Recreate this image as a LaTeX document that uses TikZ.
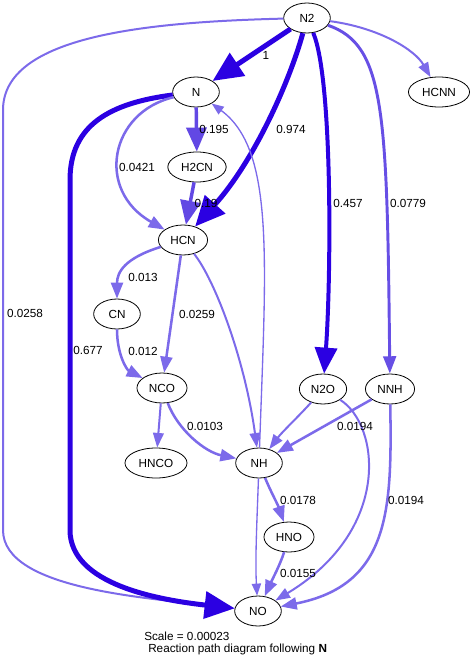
\documentclass[tikz,border=0pt]{standalone}
\usepackage{fontspec}
\setmainfont{Liberation Sans}
\usetikzlibrary{shapes,arrows.meta}

\definecolor{fluxhi}{RGB}{43,0,226}
\definecolor{fluxmid}{RGB}{98,72,228}
\definecolor{fluxlo}{RGB}{124,106,234}

\begin{document}
\begin{tikzpicture}[x=0.75pt, y=-0.75pt,
  sp/.style={draw, ellipse, line width=0.6pt, minimum width=35pt, minimum height=22.5pt,
    inner xsep=3.5pt, inner ysep=0pt, font=\fontsize{8.8}{10}\selectfont},
  lab/.style={inner sep=0pt, font=\fontsize{8.8}{10}\selectfont},
  ehi/.style={draw=fluxhi, line width=3.75pt, -{Triangle[length=22.5pt,width=20pt]}},
  e457/.style={draw=fluxhi, line width=3pt, -{Triangle[length=19.5pt,width=16.5pt]}},
  e195/.style={draw=fluxmid, line width=2.6pt, -{Triangle[length=18pt,width=15pt]}},
  emid/.style={draw=fluxmid!80!fluxlo, line width=2.2pt, -{Triangle[length=13pt,width=9.5pt]}},
  emed/.style={draw=fluxlo, line width=1.9pt, -{Triangle[length=12pt,width=9pt]}},
  elo/.style={draw=fluxlo, line width=1.5pt, -{Triangle[length=11pt,width=8pt]}},
  ethin/.style={draw=fluxlo, line width=1pt, -{Triangle[length=9pt,width=7pt]}}]

\useasboundingbox (0,0) rectangle (474,663);

% species
\foreach \s/\x/\y in {N2/307/18, N/196/92, HCNN/439/92, H2CN/197/167, HCN/183/240,
    CN/117/314, NCO/162/388, N2O/323/389, NNH/390/389, HNCO/156/463,
    NH/259/463, HNO/289/537, NO/258/611}{
  \node[sp] (\s) at (\x,\y) {\s};
}

% fluxes out of N2
\draw[elo] (N2) .. controls (150,22) and (3,35) .. (3,110) -- (3,530)
  .. controls (3,590) and (150,598) .. (NO);
\draw[ehi] (N2) -- (N);
\draw[ehi] (N2) .. controls (290,80) and (255,160) .. (HCN);
\draw[e457] (N2) .. controls (333,80) and (331,280) .. (N2O);
\draw[emid] (N2) .. controls (385,45) and (387,110) .. (NNH);
\draw[elo] (N2) .. controls (380,28) and (415,50) .. (HCNN);

% N and HCN
\draw[ehi] (N) .. controls (110,103) and (70,125) .. (70,180) -- (70,530)
  .. controls (70,585) and (160,600) .. (NO);
\draw[e195] (N) -- (H2CN);
\draw[e195] (H2CN) -- (HCN);
\draw[emed] (N) .. controls (110,112) and (95,190) .. (HCN);
\draw[ethin] (NH) .. controls (266,260) and (275,150) .. (N);
\draw[emed] (HCN) .. controls (125,258) and (117,272) .. (CN);
\draw[emed] (HCN) -- (NCO);
\draw[elo] (HCN) .. controls (215,280) and (245,360) .. (NH);
\draw[emed] (CN) .. controls (117,355) and (127,370) .. (NCO);
\draw[elo] (NCO) -- (HNCO);
\draw[emed] (NCO) .. controls (178,430) and (205,452) .. (NH);

% N2O, NNH, NH
\draw[elo] (N2O) .. controls (300,415) and (282,432) .. (NH);
\draw[elo] (N2O) .. controls (380,425) and (392,530) .. (NO);
\draw[emed] (NNH) -- (NH);
\draw[emed] (NNH) .. controls (392,510) and (390,585) .. (NO);
\draw[emed] (NH) .. controls (270,490) and (278,505) .. (HNO);
\draw[emed] (HNO) .. controls (280,565) and (272,580) .. (NO);
\draw[ethin] (NH) .. controls (257,520) and (255,560) .. (NO);

% flux values
\node[lab] (v1) at (266,55) {1};
\node[lab] (v974) at (291,129) {0.974};
\node[lab] (v457) at (348,203) {0.457};
\node[lab] (v779) at (408,203) {0.0779};
\node[lab] (v258) at (25,313) {0.0258};
\node[lab] (v677) at (88,350) {0.677};
\node[lab] (v195) at (214,129) {0.195};
\node[lab] (v19) at (206,203) {0.19};
\node[lab] (v421) at (137,167) {0.0421};
\node[lab] (v13) at (143,277) {0.013};
\node[lab] (v259) at (197,314) {0.0259};
\node[lab] (v12) at (143,351) {0.012};
\node[lab] (v103) at (205,426) {0.0103};
\node[lab] (v194a) at (355,426) {0.0194};
\node[lab] (v194b) at (406,500) {0.0194};
\node[lab] (v178) at (298,500) {0.0178};
\node[lab] (v155) at (298,573) {0.0155};

\node[lab, anchor=west] (scale) at (144,636) {Scale = 0.00023};
\node[lab, anchor=west] (title) at (148,649) {Reaction path diagram following \textbf{N}};

\end{tikzpicture}
\end{document}
